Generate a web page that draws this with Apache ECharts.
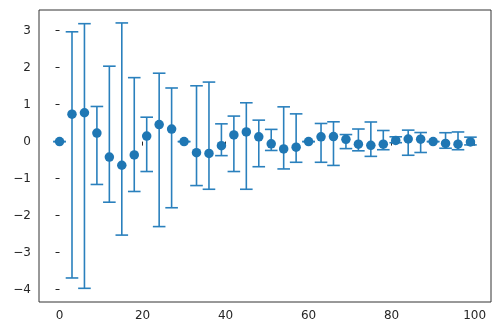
<!DOCTYPE html>
<html>
<head>
<meta charset="utf-8">
<script src="https://cdn.jsdelivr.net/npm/echarts@6/dist/echarts.min.js"></script>
<style>
  html, body { margin: 0; padding: 0; background: #fff; }
  #chart { width: 500px; height: 334px; }
</style>
</head>
<body>
<div id="chart"></div>
<script>
// Sample positions
const xValues = [0, 3, 6, 9, 12, 15, 18, 21, 24, 27, 30, 33, 36, 39, 42, 45, 48,
                 51, 54, 57, 60, 63, 66, 69, 72, 75, 78, 81, 84, 87, 90, 93, 96, 99];
// Measured means
const yValues = [0, 0.74, 0.78, 0.23, -0.42, -0.64, -0.36, 0.15, 0.46, 0.34, 0,
                 -0.30, -0.32, -0.11, 0.18, 0.26, 0.13, -0.06, -0.20, -0.15, 0,
                 0.13, 0.135, 0.06, -0.07, -0.10, -0.07, 0.03, 0.07, 0.065, 0,
                 -0.05, -0.07, -0.01];
// Upper error (distance above the mean)
const errUpper = [0, 2.23, 2.41, 0.72, 2.46, 3.85, 2.09, 0.51, 1.39, 1.11, 0,
                  1.81, 1.93, 0.59, 0.51, 0.79, 0.45, 0.39, 1.14, 0.90, 0,
                  0.36, 0.40, 0.13, 0.41, 0.63, 0.37, 0.10, 0.24, 0.18, 0,
                  0.29, 0.33, 0.13];
// Lower error (distance below the mean)
const errLower = [0, 4.43, 4.75, 1.39, 1.22, 1.89, 0.99, 0.96, 2.76, 2.13, 0,
                  0.89, 0.97, 0.27, 0.99, 1.55, 0.81, 0.18, 0.54, 0.41, 0,
                  0.69, 0.78, 0.25, 0.18, 0.30, 0.15, 0.06, 0.44, 0.36, 0,
                  0.13, 0.15, 0.08];
// Tick labels
const xTicks = [0, 20, 40, 60, 80, 100];
const yTicks = [-4, -3, -2, -1, 0, 1, 2, 3];

const BLUE = '#1f77b4';
const TEXT = '#262626';
const FONT = 'DejaVu Sans';

const points = xValues.map((x, i) => [x, yValues[i]]);
const bars = xValues.map((x, i) => [x, yValues[i] - errLower[i], yValues[i] + errUpper[i]]);

const minus = v => String(v).replace('-', '\u2212');

const chart = echarts.init(document.getElementById('chart'), null, { renderer: 'canvas' });

const axisCommon = {
  type: 'value',
  axisLine: { show: false },
  splitLine: { show: false },
  axisTick: { show: true, inside: false, length: 4, lineStyle: { color: TEXT, width: 1 } },
  axisLabel: { color: TEXT, fontFamily: FONT, fontSize: 12, margin: 8, formatter: minus }
};

chart.setOption({
  animation: false,
  grid: {
    left: 39, right: 9, top: 10, bottom: 32,
    show: true, borderColor: '#333', borderWidth: 1, backgroundColor: 'transparent'
  },
  xAxis: Object.assign({}, axisCommon, {
    min: -4.95, max: 103.95,
    axisTick: Object.assign({}, axisCommon.axisTick, { customValues: xTicks }),
    axisLabel: Object.assign({}, axisCommon.axisLabel, { customValues: xTicks })
  }),
  yAxis: Object.assign({}, axisCommon, {
    min: -4.34, max: 3.56,
    axisTick: Object.assign({}, axisCommon.axisTick, { customValues: yTicks }),
    axisLabel: Object.assign({}, axisCommon.axisLabel, { customValues: yTicks })
  }),
  series: [
    {
      // error bars with caps
      type: 'custom',
      data: bars,
      z: 2,
      renderItem: function (params, api) {
        const x = api.value(0);
        const lo = api.coord([x, api.value(1)]);
        const hi = api.coord([x, api.value(2)]);
        const cap = 6.3;
        const style = { stroke: '#2a80bd', lineWidth: 1.6, fill: null };
        return {
          type: 'group',
          children: [
            { type: 'line', shape: { x1: lo[0], y1: lo[1], x2: hi[0], y2: hi[1] }, style: style },
            { type: 'line', shape: { x1: lo[0] - cap, y1: lo[1], x2: lo[0] + cap, y2: lo[1] }, style: style },
            { type: 'line', shape: { x1: hi[0] - cap, y1: hi[1], x2: hi[0] + cap, y2: hi[1] }, style: style }
          ]
        };
      }
    },
    {
      type: 'scatter',
      data: points,
      symbol: 'circle',
      symbolSize: 9.5,
      z: 3,
      itemStyle: { color: BLUE, opacity: 1 }
    }
  ]
});
</script>
</body>
</html>
